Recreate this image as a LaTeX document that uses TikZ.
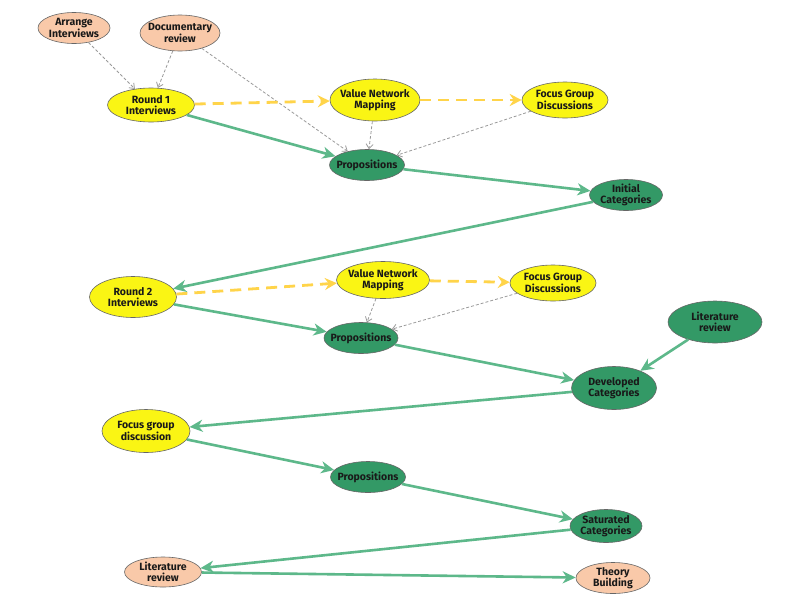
\documentclass[tikz,border=0pt]{standalone}
\usepackage{fontspec}
\setmainfont{Fira Sans}
\usetikzlibrary{shapes.geometric,arrows.meta}
\definecolor{peach}{HTML}{F9C9A9}
\definecolor{yel}{HTML}{FAF514}
\definecolor{dgreen}{HTML}{339966}
\definecolor{egreen}{HTML}{5DB88A}
\definecolor{dyel}{HTML}{FFD44A}
\definecolor{dgray}{HTML}{9A9A9A}
\tikzset{
  base/.style={ellipse, draw=black!60, line width=0.6pt, inner xsep=-6pt, inner ysep=-4pt, align=center,
    font=\fontsize{10.5}{11.5}\selectfont\bfseries, text=black!90},
  pk/.style={base, fill=peach},
  yl/.style={base, fill=yel},
  gr/.style={base, fill=dgreen},
  sz/.style 2 args={minimum width=#1pt, minimum height=#2pt},
  gline/.style={draw=egreen, line width=2.6pt, -{Stealth[length=13pt,width=12pt,inset=4pt]}},
  yline/.style={draw=dyel, line width=2.8pt, dash pattern=on 11pt off 7pt, -{Stealth[length=12pt,width=12pt,inset=4pt]}},
  dline/.style={draw=dgray, line width=0.8pt, dash pattern=on 3pt off 2pt, -{Straight Barb[length=4.5pt,width=7pt]}},
}
\begin{document}
\begin{tikzpicture}[x=1pt,y=-1pt]
\useasboundingbox (0,0) rectangle (800,600);
\fill[white] (0,0) rectangle (800,600);
% nodes
\node[pk, sz={72}{31}] (arr) at (74,28) {Arrange\\Interviews};
\node[pk, sz={80}{36}] (doc) at (180,33) {Documentary\\review};
\node[yl, sz={87}{34}] (r1) at (151,105) {Round 1\\Interviews};
\node[yl, sz={90}{42}] (vnm1) at (375,100) {Value Network\\Mapping};
\node[yl, sz={86}{36}] (fgd1) at (565,100) {Focus Group\\Discussions};
\node[gr, sz={75}{31}] (p1) at (367,165) {Propositions};
\node[gr, sz={73}{31}] (ic) at (626,195) {Initial\\Categories};
\node[yl, sz={87}{41}] (r2) at (133,297) {Round 2\\Interviews};
\node[yl, sz={93}{37}] (vnm2) at (383,280) {Value Network\\Mapping};
\node[yl, sz={86}{36}] (fgd2) at (553,283) {Focus Group\\Discussions};
\node[gr, sz={74}{31}] (p2) at (361,338) {Propositions};
\node[gr, sz={94}{42}] (lit1) at (715,322) {Literature\\review};
\node[gr, sz={85}{43}] (dc) at (614,388) {Developed\\Categories};
\node[yl, sz={88}{43}] (fg) at (146,431) {Focus group\\discussion};
\node[gr, sz={75}{31}] (p3) at (368,477) {Propositions};
\node[gr, sz={72}{33}] (sc) at (606,526) {Saturated\\Categories};
\node[pk, sz={77}{30}] (lit2) at (163,572) {Literature\\review};
\node[pk, sz={74}{31}] (tb) at (613,578) {Theory\\Building};
% gray dashed
\draw[dline] (arr) -- (r1);
\draw[dline] (doc) -- (r1);
\draw[dline] (doc) -- (p1);
\draw[dline] (vnm1) -- (p1);
\draw[dline] (fgd1) -- (p1);
\draw[dline] (vnm2) -- (p2);
\draw[dline] (fgd2) -- (p2);
% yellow dashed
\draw[yline] (r1) -- (vnm1);
\draw[yline] (vnm1) -- (fgd1);
\draw[yline] (r2) -- (vnm2);
\draw[yline] (vnm2) -- (fgd2);
% green
\draw[gline] (r1) -- (p1);
\draw[gline] (p1) -- (ic);
\draw[gline] (ic) -- (r2);
\draw[gline] (r2) -- (p2);
\draw[gline] (p2) -- (dc);
\draw[gline] (lit1) -- (dc);
\draw[gline] (dc) -- (fg);
\draw[gline] (fg) -- (p3);
\draw[gline] (p3) -- (sc);
\draw[gline] (sc) -- (lit2);
\draw[gline] (lit2) -- (tb);
\end{tikzpicture}
\end{document}
